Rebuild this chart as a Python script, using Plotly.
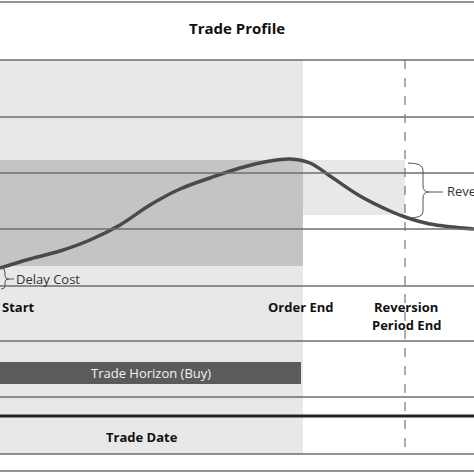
import plotly.graph_objects as go

# diagram geometry in picture units (x: 0-474, y: 0-474 from top)
row_lines_y = [2, 60, 117, 173, 229, 286, 341, 397, 454, 471]
curve_x = [0, 30, 60, 90, 120, 150, 180, 210, 240, 270, 290, 310, 330, 360, 390, 405, 430, 474]
curve_y = [268, 259, 251, 240, 225, 205, 189, 178, 168, 161, 159, 163, 176, 196, 211, 217, 224, 229]
order_end_x = 303
reversion_end_x = 405

fig = go.Figure()
shapes = []
shapes.append(dict(type="rect", x0=0, x1=order_end_x, y0=60, y1=454, fillcolor="#e8e8e8", line_width=0, layer="below"))
shapes.append(dict(type="rect", x0=0, x1=order_end_x, y0=160, y1=266, fillcolor="#c4c4c4", line_width=0, layer="below"))
shapes.append(dict(type="rect", x0=order_end_x, x1=reversion_end_x, y0=160, y1=215, fillcolor="#e8e8e8", line_width=0, layer="below"))
shapes.append(dict(type="rect", x0=0, x1=order_end_x - 2, y0=362, y1=384, fillcolor="#5b5b5b", line_width=0))
for y in row_lines_y:
    shapes.append(dict(type="line", x0=0, x1=474, y0=y, y1=y, line=dict(color="#6e6e6e", width=1.5)))
shapes.append(dict(type="line", x0=0, x1=474, y0=416, y1=416, line=dict(color="#222", width=3)))
shapes.append(dict(type="line", x0=reversion_end_x, x1=reversion_end_x, y0=60, y1=456, line=dict(color="#777", width=1.2, dash="dash")))
shapes.append(dict(type="path", path="M 1 268 Q 5 268 5 272 L 5 276 Q 5 279 9 279 Q 5 279 5 282 L 5 286 Q 5 289 1 289", line=dict(color="#555", width=1)))
shapes.append(dict(type="path", path="M 408 163 Q 423 163 423 170 L 423 186 Q 423 192 429 192 Q 423 192 423 198 L 423 212 Q 423 218 408 218", line=dict(color="#555", width=1)))
shapes.append(dict(type="line", x0=429, x1=443, y0=192, y1=192, line=dict(color="#555", width=1)))
shapes.append(dict(type="line", x0=9, x1=14, y0=279, y1=279, line=dict(color="#555", width=1)))

fig.add_trace(go.Scatter(x=curve_x, y=curve_y, mode="lines", line=dict(color="#4a4a4a", width=3.5, shape="spline"), hoverinfo="skip"))
fig.add_trace(go.Scatter(x=[447], y=[193], mode="text", text=["Reversion"], textposition="middle right",
                         textfont=dict(family="Open Sans", size=13, color="#333"), cliponaxis=True, hoverinfo="skip"))

def ann(x, y, t, size=13, bold=True, color="#111", xanchor="center"):
    fig.add_annotation(x=x, y=y, text=f"<b>{t}</b>" if bold else t, showarrow=False, xanchor=xanchor, yanchor="middle",
                       font=dict(family="Open Sans", size=size, color=color))

ann(237, 28, "Trade Profile", size=15)
ann(14, 279, "Delay Cost", bold=False, color="#333", xanchor="left")
ann(0, 307, "Start", xanchor="left")
ann(301, 307, "Order End")
ann(406, 307, "Reversion")
ann(406, 325, "Period End")
ann(151, 373, "Trade Horizon (Buy)", bold=False, color="#f2f2f2")
ann(142, 437, "Trade Date")

fig.update_layout(width=474, height=474, margin=dict(l=0, r=0, t=0, b=0), showlegend=False,
                  plot_bgcolor="white", paper_bgcolor="white", shapes=shapes,
                  xaxis=dict(range=[0, 474], visible=False, fixedrange=True),
                  yaxis=dict(range=[474, 0], visible=False, fixedrange=True))
fig.write_html("out.html", config={"displayModeBar": False},
               post_script="document.body.style.margin='0';document.body.style.overflow='hidden';")
